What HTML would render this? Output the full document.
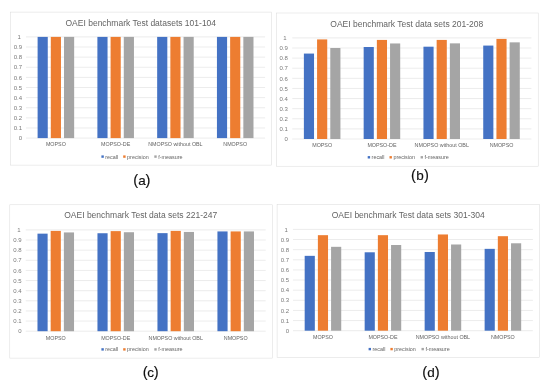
<!DOCTYPE html>
<html><head><meta charset="utf-8"><title>OAEI benchmark charts</title>
<style>html,body{margin:0;padding:0;background:#fff}svg{display:block}text{font-family:"Liberation Sans",sans-serif}</style></head>
<body>
<svg width="550" height="386" viewBox="0 0 550 386">
<rect x="0" y="0" width="550" height="386" fill="#ffffff"/>
<g>
<rect x="10.3" y="12.1" width="261.30" height="153.00" fill="#fff" stroke="#D9D9D9" stroke-width="0.5"/>
<line x1="26.0" x2="265.1" y1="138.10" y2="138.10" stroke="#D9D9D9" stroke-width="0.5"/>
<text x="22.00" y="140.26" font-size="6.0" fill="#7a7a7a" text-anchor="end">0</text>
<line x1="26.0" x2="265.1" y1="127.98" y2="127.98" stroke="#D9D9D9" stroke-width="0.5"/>
<text x="22.00" y="130.14" font-size="6.0" fill="#7a7a7a" text-anchor="end">0.1</text>
<line x1="26.0" x2="265.1" y1="117.86" y2="117.86" stroke="#D9D9D9" stroke-width="0.5"/>
<text x="22.00" y="120.02" font-size="6.0" fill="#7a7a7a" text-anchor="end">0.2</text>
<line x1="26.0" x2="265.1" y1="107.74" y2="107.74" stroke="#D9D9D9" stroke-width="0.5"/>
<text x="22.00" y="109.90" font-size="6.0" fill="#7a7a7a" text-anchor="end">0.3</text>
<line x1="26.0" x2="265.1" y1="97.62" y2="97.62" stroke="#D9D9D9" stroke-width="0.5"/>
<text x="22.00" y="99.78" font-size="6.0" fill="#7a7a7a" text-anchor="end">0.4</text>
<line x1="26.0" x2="265.1" y1="87.50" y2="87.50" stroke="#D9D9D9" stroke-width="0.5"/>
<text x="22.00" y="89.66" font-size="6.0" fill="#7a7a7a" text-anchor="end">0.5</text>
<line x1="26.0" x2="265.1" y1="77.38" y2="77.38" stroke="#D9D9D9" stroke-width="0.5"/>
<text x="22.00" y="79.54" font-size="6.0" fill="#7a7a7a" text-anchor="end">0.6</text>
<line x1="26.0" x2="265.1" y1="67.26" y2="67.26" stroke="#D9D9D9" stroke-width="0.5"/>
<text x="22.00" y="69.42" font-size="6.0" fill="#7a7a7a" text-anchor="end">0.7</text>
<line x1="26.0" x2="265.1" y1="57.14" y2="57.14" stroke="#D9D9D9" stroke-width="0.5"/>
<text x="22.00" y="59.30" font-size="6.0" fill="#7a7a7a" text-anchor="end">0.8</text>
<line x1="26.0" x2="265.1" y1="47.02" y2="47.02" stroke="#D9D9D9" stroke-width="0.5"/>
<text x="22.00" y="49.18" font-size="6.0" fill="#7a7a7a" text-anchor="end">0.9</text>
<line x1="26.0" x2="265.1" y1="36.90" y2="36.90" stroke="#D9D9D9" stroke-width="0.5"/>
<text x="20.80" y="39.06" font-size="6.0" fill="#7a7a7a" text-anchor="end">1</text>
<rect x="37.61" y="36.90" width="10.15" height="101.20" fill="#4472C4"/>
<rect x="50.81" y="36.90" width="10.15" height="101.20" fill="#ED7D31"/>
<rect x="64.01" y="36.90" width="10.15" height="101.20" fill="#A5A5A5"/>
<text x="55.89" y="146.23" font-size="5.35" fill="#646464" text-anchor="middle">MOPSO</text>
<rect x="97.39" y="36.90" width="10.15" height="101.20" fill="#4472C4"/>
<rect x="110.59" y="36.90" width="10.15" height="101.20" fill="#ED7D31"/>
<rect x="123.79" y="36.90" width="10.15" height="101.20" fill="#A5A5A5"/>
<text x="115.66" y="146.23" font-size="5.35" fill="#646464" text-anchor="middle">MOPSO-DE</text>
<rect x="157.16" y="36.90" width="10.15" height="101.20" fill="#4472C4"/>
<rect x="170.36" y="36.90" width="10.15" height="101.20" fill="#ED7D31"/>
<rect x="183.56" y="36.90" width="10.15" height="101.20" fill="#A5A5A5"/>
<text x="175.44" y="146.23" font-size="5.35" fill="#646464" text-anchor="middle">NMOPSO without OBL</text>
<rect x="216.94" y="36.90" width="10.15" height="101.20" fill="#4472C4"/>
<rect x="230.14" y="36.90" width="10.15" height="101.20" fill="#ED7D31"/>
<rect x="243.34" y="36.90" width="10.15" height="101.20" fill="#A5A5A5"/>
<text x="235.21" y="146.23" font-size="5.35" fill="#646464" text-anchor="middle">NMOPSO</text>
<text x="140.8" y="25.86" font-size="8.5" fill="#646464" text-anchor="middle">OAEI benchmark Test datasets 101-104</text>
<rect x="101.40" y="155.40" width="2.4" height="2.4" fill="#4472C4"/>
<text x="105.30" y="158.54" font-size="5.4" fill="#646464">recall</text>
<rect x="123.20" y="155.40" width="2.4" height="2.4" fill="#ED7D31"/>
<text x="127.10" y="158.54" font-size="5.4" fill="#646464">precision</text>
<rect x="154.30" y="155.40" width="2.4" height="2.4" fill="#A5A5A5"/>
<text x="158.20" y="158.54" font-size="5.4" fill="#646464">f-measure</text>
<text x="141.9" y="185.26" font-size="13.5" fill="#111111" stroke="#111111" stroke-width="0.15" text-anchor="middle"><tspan font-size="14.7" dy="0.1">(</tspan><tspan dy="-0.1" dx="-0.1">a</tspan><tspan font-size="14.7" dy="0.1" dx="-0.1">)</tspan></text>
</g>
<g>
<rect x="276.6" y="13.0" width="261.60" height="153.20" fill="#fff" stroke="#D9D9D9" stroke-width="0.5"/>
<line x1="292.26" x2="531.4" y1="139.00" y2="139.00" stroke="#D9D9D9" stroke-width="0.5"/>
<text x="287.80" y="141.16" font-size="6.0" fill="#7a7a7a" text-anchor="end">0</text>
<line x1="292.26" x2="531.4" y1="128.89" y2="128.89" stroke="#D9D9D9" stroke-width="0.5"/>
<text x="287.80" y="131.05" font-size="6.0" fill="#7a7a7a" text-anchor="end">0.1</text>
<line x1="292.26" x2="531.4" y1="118.78" y2="118.78" stroke="#D9D9D9" stroke-width="0.5"/>
<text x="287.80" y="120.94" font-size="6.0" fill="#7a7a7a" text-anchor="end">0.2</text>
<line x1="292.26" x2="531.4" y1="108.67" y2="108.67" stroke="#D9D9D9" stroke-width="0.5"/>
<text x="287.80" y="110.83" font-size="6.0" fill="#7a7a7a" text-anchor="end">0.3</text>
<line x1="292.26" x2="531.4" y1="98.56" y2="98.56" stroke="#D9D9D9" stroke-width="0.5"/>
<text x="287.80" y="100.72" font-size="6.0" fill="#7a7a7a" text-anchor="end">0.4</text>
<line x1="292.26" x2="531.4" y1="88.45" y2="88.45" stroke="#D9D9D9" stroke-width="0.5"/>
<text x="287.80" y="90.61" font-size="6.0" fill="#7a7a7a" text-anchor="end">0.5</text>
<line x1="292.26" x2="531.4" y1="78.34" y2="78.34" stroke="#D9D9D9" stroke-width="0.5"/>
<text x="287.80" y="80.50" font-size="6.0" fill="#7a7a7a" text-anchor="end">0.6</text>
<line x1="292.26" x2="531.4" y1="68.23" y2="68.23" stroke="#D9D9D9" stroke-width="0.5"/>
<text x="287.80" y="70.39" font-size="6.0" fill="#7a7a7a" text-anchor="end">0.7</text>
<line x1="292.26" x2="531.4" y1="58.12" y2="58.12" stroke="#D9D9D9" stroke-width="0.5"/>
<text x="287.80" y="60.28" font-size="6.0" fill="#7a7a7a" text-anchor="end">0.8</text>
<line x1="292.26" x2="531.4" y1="48.01" y2="48.01" stroke="#D9D9D9" stroke-width="0.5"/>
<text x="287.80" y="50.17" font-size="6.0" fill="#7a7a7a" text-anchor="end">0.9</text>
<line x1="292.26" x2="531.4" y1="37.90" y2="37.90" stroke="#D9D9D9" stroke-width="0.5"/>
<text x="286.60" y="40.06" font-size="6.0" fill="#7a7a7a" text-anchor="end">1</text>
<rect x="303.88" y="53.57" width="10.15" height="85.43" fill="#4472C4"/>
<rect x="317.08" y="39.42" width="10.15" height="99.58" fill="#ED7D31"/>
<rect x="330.28" y="48.01" width="10.15" height="90.99" fill="#A5A5A5"/>
<text x="322.15" y="147.33" font-size="5.35" fill="#646464" text-anchor="middle">MOPSO</text>
<rect x="363.66" y="47.00" width="10.15" height="92.00" fill="#4472C4"/>
<rect x="376.86" y="39.92" width="10.15" height="99.08" fill="#ED7D31"/>
<rect x="390.06" y="43.46" width="10.15" height="95.54" fill="#A5A5A5"/>
<text x="381.94" y="147.33" font-size="5.35" fill="#646464" text-anchor="middle">MOPSO-DE</text>
<rect x="423.45" y="46.70" width="10.15" height="92.30" fill="#4472C4"/>
<rect x="436.65" y="39.92" width="10.15" height="99.08" fill="#ED7D31"/>
<rect x="449.85" y="43.36" width="10.15" height="95.64" fill="#A5A5A5"/>
<text x="441.72" y="147.33" font-size="5.35" fill="#646464" text-anchor="middle">NMOPSO without OBL</text>
<rect x="483.23" y="45.58" width="10.15" height="93.42" fill="#4472C4"/>
<rect x="496.43" y="38.91" width="10.15" height="100.09" fill="#ED7D31"/>
<rect x="509.63" y="42.35" width="10.15" height="96.65" fill="#A5A5A5"/>
<text x="501.51" y="147.33" font-size="5.35" fill="#646464" text-anchor="middle">NMOPSO</text>
<text x="406.8" y="26.86" font-size="8.5" fill="#646464" text-anchor="middle">OAEI benchmark Test data sets 201-208</text>
<rect x="367.70" y="156.10" width="2.4" height="2.4" fill="#4472C4"/>
<text x="371.60" y="159.24" font-size="5.4" fill="#646464">recall</text>
<rect x="389.50" y="156.10" width="2.4" height="2.4" fill="#ED7D31"/>
<text x="393.40" y="159.24" font-size="5.4" fill="#646464">precision</text>
<rect x="420.60" y="156.10" width="2.4" height="2.4" fill="#A5A5A5"/>
<text x="424.50" y="159.24" font-size="5.4" fill="#646464">f-measure</text>
<text x="419.9" y="179.66" font-size="13.5" fill="#111111" stroke="#111111" stroke-width="0.15" text-anchor="middle"><tspan font-size="14.7" dy="0.1">(</tspan><tspan dy="-0.1" dx="0.3">b</tspan><tspan font-size="14.7" dy="0.1" dx="0.3">)</tspan></text>
</g>
<g>
<rect x="9.8" y="204.8" width="262.70" height="153.30" fill="#fff" stroke="#D9D9D9" stroke-width="0.5"/>
<line x1="25.76" x2="265.7" y1="331.20" y2="331.20" stroke="#D9D9D9" stroke-width="0.5"/>
<text x="21.70" y="333.36" font-size="6.0" fill="#7a7a7a" text-anchor="end">0</text>
<line x1="25.76" x2="265.7" y1="321.07" y2="321.07" stroke="#D9D9D9" stroke-width="0.5"/>
<text x="21.70" y="323.23" font-size="6.0" fill="#7a7a7a" text-anchor="end">0.1</text>
<line x1="25.76" x2="265.7" y1="310.94" y2="310.94" stroke="#D9D9D9" stroke-width="0.5"/>
<text x="21.70" y="313.10" font-size="6.0" fill="#7a7a7a" text-anchor="end">0.2</text>
<line x1="25.76" x2="265.7" y1="300.81" y2="300.81" stroke="#D9D9D9" stroke-width="0.5"/>
<text x="21.70" y="302.97" font-size="6.0" fill="#7a7a7a" text-anchor="end">0.3</text>
<line x1="25.76" x2="265.7" y1="290.68" y2="290.68" stroke="#D9D9D9" stroke-width="0.5"/>
<text x="21.70" y="292.84" font-size="6.0" fill="#7a7a7a" text-anchor="end">0.4</text>
<line x1="25.76" x2="265.7" y1="280.55" y2="280.55" stroke="#D9D9D9" stroke-width="0.5"/>
<text x="21.70" y="282.71" font-size="6.0" fill="#7a7a7a" text-anchor="end">0.5</text>
<line x1="25.76" x2="265.7" y1="270.42" y2="270.42" stroke="#D9D9D9" stroke-width="0.5"/>
<text x="21.70" y="272.58" font-size="6.0" fill="#7a7a7a" text-anchor="end">0.6</text>
<line x1="25.76" x2="265.7" y1="260.29" y2="260.29" stroke="#D9D9D9" stroke-width="0.5"/>
<text x="21.70" y="262.45" font-size="6.0" fill="#7a7a7a" text-anchor="end">0.7</text>
<line x1="25.76" x2="265.7" y1="250.16" y2="250.16" stroke="#D9D9D9" stroke-width="0.5"/>
<text x="21.70" y="252.32" font-size="6.0" fill="#7a7a7a" text-anchor="end">0.8</text>
<line x1="25.76" x2="265.7" y1="240.03" y2="240.03" stroke="#D9D9D9" stroke-width="0.5"/>
<text x="21.70" y="242.19" font-size="6.0" fill="#7a7a7a" text-anchor="end">0.9</text>
<line x1="25.76" x2="265.7" y1="229.90" y2="229.90" stroke="#D9D9D9" stroke-width="0.5"/>
<text x="20.50" y="232.06" font-size="6.0" fill="#7a7a7a" text-anchor="end">1</text>
<rect x="37.48" y="233.65" width="10.15" height="97.55" fill="#4472C4"/>
<rect x="50.68" y="230.91" width="10.15" height="100.29" fill="#ED7D31"/>
<rect x="63.88" y="232.43" width="10.15" height="98.77" fill="#A5A5A5"/>
<text x="55.75" y="339.53" font-size="5.35" fill="#646464" text-anchor="middle">MOPSO</text>
<rect x="97.46" y="233.24" width="10.15" height="97.96" fill="#4472C4"/>
<rect x="110.66" y="231.12" width="10.15" height="100.08" fill="#ED7D31"/>
<rect x="123.86" y="232.23" width="10.15" height="98.97" fill="#A5A5A5"/>
<text x="115.74" y="339.53" font-size="5.35" fill="#646464" text-anchor="middle">MOPSO-DE</text>
<rect x="157.45" y="233.14" width="10.15" height="98.06" fill="#4472C4"/>
<rect x="170.65" y="230.91" width="10.15" height="100.29" fill="#ED7D31"/>
<rect x="183.85" y="231.93" width="10.15" height="99.27" fill="#A5A5A5"/>
<text x="175.72" y="339.53" font-size="5.35" fill="#646464" text-anchor="middle">NMOPSO without OBL</text>
<rect x="217.43" y="231.42" width="10.15" height="99.78" fill="#4472C4"/>
<rect x="230.63" y="231.42" width="10.15" height="99.78" fill="#ED7D31"/>
<rect x="243.83" y="231.42" width="10.15" height="99.78" fill="#A5A5A5"/>
<text x="235.71" y="339.53" font-size="5.35" fill="#646464" text-anchor="middle">NMOPSO</text>
<text x="140.7" y="218.46" font-size="8.5" fill="#646464" text-anchor="middle">OAEI benchmark Test data sets 221-247</text>
<rect x="101.40" y="348.20" width="2.4" height="2.4" fill="#4472C4"/>
<text x="105.30" y="351.34" font-size="5.4" fill="#646464">recall</text>
<rect x="123.20" y="348.20" width="2.4" height="2.4" fill="#ED7D31"/>
<text x="127.10" y="351.34" font-size="5.4" fill="#646464">precision</text>
<rect x="154.30" y="348.20" width="2.4" height="2.4" fill="#A5A5A5"/>
<text x="158.20" y="351.34" font-size="5.4" fill="#646464">f-measure</text>
<text x="150.7" y="377.35" font-size="13.5" fill="#111111" stroke="#111111" stroke-width="0.15" text-anchor="middle"><tspan font-size="14.7" dy="0.1">(</tspan><tspan dy="-0.1" dx="-0.4">c</tspan><tspan font-size="14.7" dy="0.1" dx="-0.4">)</tspan></text>
</g>
<g>
<rect x="277.1" y="204.7" width="262.30" height="152.70" fill="#fff" stroke="#D9D9D9" stroke-width="0.5"/>
<line x1="292.96" x2="532.9" y1="330.70" y2="330.70" stroke="#D9D9D9" stroke-width="0.5"/>
<text x="289.10" y="332.86" font-size="6.0" fill="#7a7a7a" text-anchor="end">0</text>
<line x1="292.96" x2="532.9" y1="320.57" y2="320.57" stroke="#D9D9D9" stroke-width="0.5"/>
<text x="289.10" y="322.73" font-size="6.0" fill="#7a7a7a" text-anchor="end">0.1</text>
<line x1="292.96" x2="532.9" y1="310.44" y2="310.44" stroke="#D9D9D9" stroke-width="0.5"/>
<text x="289.10" y="312.60" font-size="6.0" fill="#7a7a7a" text-anchor="end">0.2</text>
<line x1="292.96" x2="532.9" y1="300.31" y2="300.31" stroke="#D9D9D9" stroke-width="0.5"/>
<text x="289.10" y="302.47" font-size="6.0" fill="#7a7a7a" text-anchor="end">0.3</text>
<line x1="292.96" x2="532.9" y1="290.18" y2="290.18" stroke="#D9D9D9" stroke-width="0.5"/>
<text x="289.10" y="292.34" font-size="6.0" fill="#7a7a7a" text-anchor="end">0.4</text>
<line x1="292.96" x2="532.9" y1="280.05" y2="280.05" stroke="#D9D9D9" stroke-width="0.5"/>
<text x="289.10" y="282.21" font-size="6.0" fill="#7a7a7a" text-anchor="end">0.5</text>
<line x1="292.96" x2="532.9" y1="269.92" y2="269.92" stroke="#D9D9D9" stroke-width="0.5"/>
<text x="289.10" y="272.08" font-size="6.0" fill="#7a7a7a" text-anchor="end">0.6</text>
<line x1="292.96" x2="532.9" y1="259.79" y2="259.79" stroke="#D9D9D9" stroke-width="0.5"/>
<text x="289.10" y="261.95" font-size="6.0" fill="#7a7a7a" text-anchor="end">0.7</text>
<line x1="292.96" x2="532.9" y1="249.66" y2="249.66" stroke="#D9D9D9" stroke-width="0.5"/>
<text x="289.10" y="251.82" font-size="6.0" fill="#7a7a7a" text-anchor="end">0.8</text>
<line x1="292.96" x2="532.9" y1="239.53" y2="239.53" stroke="#D9D9D9" stroke-width="0.5"/>
<text x="289.10" y="241.69" font-size="6.0" fill="#7a7a7a" text-anchor="end">0.9</text>
<line x1="292.96" x2="532.9" y1="229.40" y2="229.40" stroke="#D9D9D9" stroke-width="0.5"/>
<text x="287.90" y="231.56" font-size="6.0" fill="#7a7a7a" text-anchor="end">1</text>
<rect x="304.68" y="255.84" width="10.15" height="74.86" fill="#4472C4"/>
<rect x="317.88" y="235.17" width="10.15" height="95.53" fill="#ED7D31"/>
<rect x="331.08" y="246.82" width="10.15" height="83.88" fill="#A5A5A5"/>
<text x="322.95" y="338.73" font-size="5.35" fill="#646464" text-anchor="middle">MOPSO</text>
<rect x="364.66" y="252.29" width="10.15" height="78.41" fill="#4472C4"/>
<rect x="377.86" y="235.17" width="10.15" height="95.53" fill="#ED7D31"/>
<rect x="391.06" y="245.00" width="10.15" height="85.70" fill="#A5A5A5"/>
<text x="382.94" y="338.73" font-size="5.35" fill="#646464" text-anchor="middle">MOPSO-DE</text>
<rect x="424.65" y="251.99" width="10.15" height="78.71" fill="#4472C4"/>
<rect x="437.85" y="234.47" width="10.15" height="96.23" fill="#ED7D31"/>
<rect x="451.05" y="244.49" width="10.15" height="86.21" fill="#A5A5A5"/>
<text x="442.92" y="338.73" font-size="5.35" fill="#646464" text-anchor="middle">NMOPSO without OBL</text>
<rect x="484.63" y="248.85" width="10.15" height="81.85" fill="#4472C4"/>
<rect x="497.83" y="236.19" width="10.15" height="94.51" fill="#ED7D31"/>
<rect x="511.03" y="243.28" width="10.15" height="87.42" fill="#A5A5A5"/>
<text x="502.91" y="338.73" font-size="5.35" fill="#646464" text-anchor="middle">NMOPSO</text>
<text x="408.2" y="218.06" font-size="8.5" fill="#646464" text-anchor="middle">OAEI benchmark Test data sets 301-304</text>
<rect x="368.60" y="347.90" width="2.4" height="2.4" fill="#4472C4"/>
<text x="372.50" y="351.04" font-size="5.4" fill="#646464">recall</text>
<rect x="390.40" y="347.90" width="2.4" height="2.4" fill="#ED7D31"/>
<text x="394.30" y="351.04" font-size="5.4" fill="#646464">precision</text>
<rect x="421.50" y="347.90" width="2.4" height="2.4" fill="#A5A5A5"/>
<text x="425.40" y="351.04" font-size="5.4" fill="#646464">f-measure</text>
<text x="430.9" y="377.25" font-size="13.5" fill="#111111" stroke="#111111" stroke-width="0.15" text-anchor="middle"><tspan font-size="14.7" dy="0.1">(</tspan><tspan dy="-0.1" dx="0.0">d</tspan><tspan font-size="14.7" dy="0.1" dx="0.0">)</tspan></text>
</g>
</svg>
</body></html>
